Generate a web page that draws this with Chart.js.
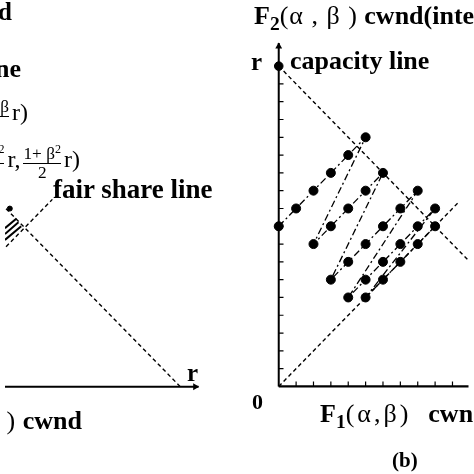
<!DOCTYPE html>
<html>
<head>
<meta charset="utf-8">
<script src="https://cdn.jsdelivr.net/npm/chart.js@4.4.0/dist/chart.umd.min.js"></script>
<style>
  html, body { margin: 0; padding: 0; background: #fff; }
  #page { position: relative; width: 474px; height: 474px; overflow: hidden; background: #fff; }
  canvas { position: absolute; top: 0; }
  .t { position: absolute; font-family: "Liberation Serif", "DejaVu Serif", serif; color: #000; white-space: nowrap; line-height: 1; }
  .b { font-weight: bold; }
  .g { font-weight: normal; letter-spacing: 1px; }
  .g3 { font-weight: normal; letter-spacing: 3px; margin-right: 4px; }
  .frac { display: inline-block; text-align: center; vertical-align: -0.62em; font-size: 0.72em; margin: 0 3px; }
  .frac > span { display: block; line-height: 1.05; }
  .frac > span:first-child { border-bottom: 1px solid #000; }
  sub { font-size: 0.75em; vertical-align: -0.3em; line-height: 0; }
  sup { font-size: 0.7em; vertical-align: 0.5em; line-height: 0; }
</style>
</head>
<body>
<div id="page">
  <canvas id="leftChart" width="237" height="474" style="left:0"></canvas>
  <canvas id="rightChart" width="237" height="474" style="left:237px"></canvas>

  <!-- left panel (a), cut off on the left -->
  <div class="t b" style="right:462px; top:-1px; font-size:25px">F<sub>2</sub><span class="g">(α , β )</span> cwnd</div>
  <div class="t b" style="right:453px; top:56px; font-size:26px">capacity line</div>
  <div class="t" style="right:446px; top:98px; font-size:24px">(<span class="frac"><span>1− β</span><span>2</span></span>r,<span class="frac"><span>1+ β</span><span>2</span></span>r)</div>
  <div class="t" style="right:394px; top:145px; font-size:24px">(<span class="frac"><span>1− β<sup>2</sup></span><span>2</span></span>r,<span class="frac"><span>1+ β<sup>2</sup></span><span>2</span></span>r)</div>
  <div class="t b" style="left:53px; top:176px; font-size:27px">fair share line</div>
  <div class="t b" style="left:187px; top:360px; font-size:25px">r</div>
  <div class="t b" style="right:392px; top:408px; font-size:26px">F<sub>1</sub><span class="g">(α , β )</span>&nbsp;cwnd</div>

  <!-- right panel (b) -->
  <div class="t b" style="left:254px; top:3px; font-size:26px">F<sub>2</sub><span class="g">(α , β )</span> cwnd(integer)</div>
  <div class="t b" style="left:251px; top:49px; font-size:25px">r</div>
  <div class="t b" style="left:290px; top:48px; font-size:26px">capacity line</div>
  <div class="t b" style="left:252px; top:391px; font-size:22px">0</div>
  <div class="t b" style="left:320px; top:401px; font-size:26px">F<sub>1</sub><span class="g3">(α,β)</span>&nbsp; cwnd(integer)</div>
  <div class="t b" style="left:392px; top:450px; font-size:21px">(b)</div>
</div>

<script>
// Data (window units, capacity r = 18)
const R = 18;

// (b) AIMD trajectory, integer cwnd
const trajX = [0, 1, 2, 3, 4, 5, 2, 3, 4, 5, 6, 3, 4, 5, 6, 7, 8, 4, 5, 6, 7, 8, 9, 5, 6, 7, 8, 9];
const trajY = [9, 10, 11, 12, 13, 14, 8, 9, 10, 11, 12, 6, 7, 8, 9, 10, 11, 5, 6, 7, 8, 9, 10, 5, 6, 7, 8, 9];
const axisTicks = [1, 2, 3, 4, 5, 6, 7, 8, 9, 10, 11, 12, 13, 14, 15, 16, 17];
const rightAxisEnd = 19.3;
const rightFairEnd = 10.3;

// (a) converging steps near the fair point
const stepX0 = [7.86, 7.86, 7.86];
const stepY0 = [8.97, 8.64, 8.31];
const stepX1 = [8.53, 8.64, 8.80];
const stepY1 = [9.52, 9.30, 9.08];
const leftDotX = [8.14];
const leftDotY = [10.08];
const leftAxisEnd = 19.05;
const leftFairEnd = 10.6;

// Layout (pixels inside each canvas)
const RIGHT = { ox: 38, oy: 390, unit: 18.22, w: 237, h: 474 };
const LEFT = { ox: -142, oy: 390, unit: 18.06, w: 237, h: 474 };
const TICK_PX = 5;
const DASH = [4, 3];
const DASH_DOT = [7, 3, 2, 3];

function pts(xs, ys) {
    return xs.map((x, i) => ({ x: x, y: ys[i] }));
}

// join separate segments into one line dataset, broken by gaps
function segments(x0, y0, x1, y1) {
    const out = [];
    x0.forEach((x, i) => {
        out.push({ x: x, y: y0[i] }, { x: x1[i], y: y1[i] }, { x: x1[i], y: null });
    });
    return out;
}

function line(data, opts) {
    return Object.assign({
        data: data,
        showLine: true,
        borderColor: '#000',
        backgroundColor: '#000',
        borderWidth: 1.4,
        pointRadius: 0,
        spanGaps: false
    }, opts || {});
}

function arrow(x, y, rot, unit) {
    // triangle tip sits at (x, y); shift the centre back by the point radius
    const back = 3.5 / unit;
    const p = rot === 0 ? { x: x, y: y - back } : { x: x - back, y: y };
    return {
        data: [p],
        showLine: false,
        pointStyle: 'triangle',
        pointRadius: 4,
        pointRotation: rot,
        pointBorderWidth: 0,
        backgroundColor: '#000',
        borderColor: '#000'
    };
}

function makeChart(id, box, datasets) {
    return new Chart(document.getElementById(id), {
        type: 'scatter',
        data: { datasets: datasets },
        options: {
            responsive: false,
            animation: false,
            events: [],
            layout: { padding: 0 },
            plugins: { legend: { display: false }, tooltip: { enabled: false } },
            scales: {
                x: { type: 'linear', display: false, min: -box.ox / box.unit, max: (box.w - box.ox) / box.unit },
                y: { type: 'linear', display: false, min: (box.oy - box.h) / box.unit, max: box.oy / box.unit }
            }
        }
    });
}

// (b)
const tickLen = TICK_PX / RIGHT.unit;
const zeros = axisTicks.map(() => 0);
const tickEnds = axisTicks.map(() => tickLen);

makeChart('rightChart', RIGHT, [
    line([{ x: 0, y: 0 }, { x: 0, y: rightAxisEnd }], { borderWidth: 2 }),
    line([{ x: 0, y: 0 }, { x: rightAxisEnd, y: 0 }], { borderWidth: 2.2 }),
    arrow(0, rightAxisEnd, 0, RIGHT.unit),
    line(segments(zeros, axisTicks, tickEnds, axisTicks), { borderWidth: 1.2 }),
    line(segments(axisTicks, zeros, axisTicks, tickEnds), { borderWidth: 1.2 }),
    line([{ x: 0, y: R }, { x: R, y: 0 }], { borderDash: DASH }),
    line([{ x: 0, y: 0 }, { x: rightFairEnd, y: rightFairEnd }], { borderDash: DASH }),
    line(pts(trajX, trajY), { borderDash: DASH_DOT, borderWidth: 1.3, pointRadius: 4.5, pointBorderWidth: 1 }),
    { data: [{ x: 0, y: R }], showLine: false, pointRadius: 4.3, pointBorderWidth: 1, backgroundColor: '#000', borderColor: '#000' }
]);

// (a)
makeChart('leftChart', LEFT, [
    line([{ x: 0, y: 0 }, { x: leftAxisEnd, y: 0 }], { borderWidth: 2.2 }),
    arrow(leftAxisEnd, 0, 90, LEFT.unit),
    line([{ x: 0, y: R }, { x: R, y: 0 }], { borderDash: DASH }),
    line([{ x: 0, y: 0 }, { x: leftFairEnd, y: leftFairEnd }], { borderDash: DASH }),
    line(segments(stepX0, stepY0, stepX1, stepY1), { borderWidth: 2 }),
    { data: pts(leftDotX, leftDotY), showLine: false, pointRadius: 2.5, pointBorderWidth: 1, backgroundColor: '#000', borderColor: '#000' }
]);
</script>
</body>
</html>
